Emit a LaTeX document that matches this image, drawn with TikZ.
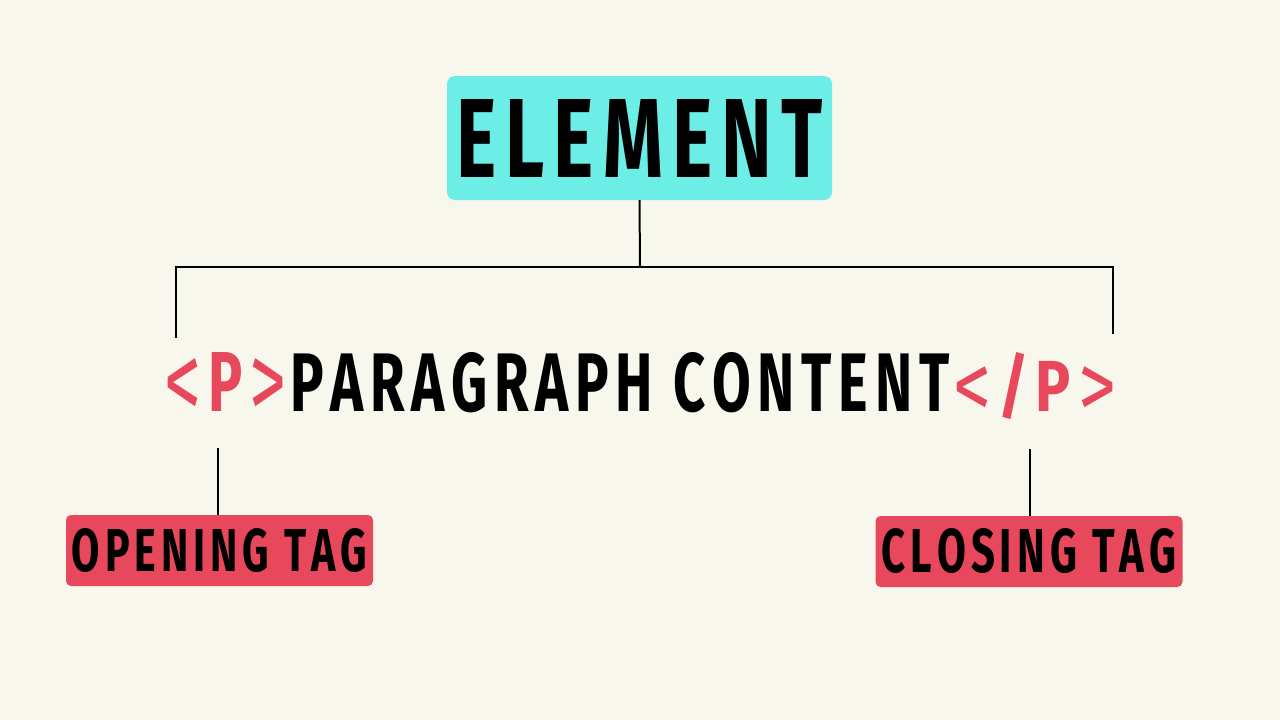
\documentclass[tikz,border=0pt]{standalone}
\usepackage{graphicx}
\usepackage{fontspec}
\setmainfont{Fira Sans}
\newcommand\trk{\kern0.12em}
\newcommand\wsp{\kern0.36em}
\newcommand\thin[1]{{\mdseries\raisebox{-0.1em}{\scalebox{1.3}{#1}}}}
\definecolor{bg}{HTML}{F8F7EE}
\definecolor{cyanbox}{HTML}{6CEEE6}
\definecolor{tagred}{HTML}{E8485B}
\tikzset{
  elbox/.style={rectangle, rounded corners=8pt, fill=cyanbox, inner sep=0pt},
  tagbox/.style={rectangle, rounded corners=5pt, fill=tagred, inner sep=0pt, minimum width=307pt, minimum height=71pt},
  wire/.style={draw=black, line width=2pt},
  txt/.style={inner sep=0pt, anchor=base west}
}
\begin{document}
\begin{tikzpicture}[x=1pt,y=-1pt]
\fill[bg] (0,0) rectangle (1280,720);
\useasboundingbox (0,0) rectangle (1280,720);
% top box
\node[elbox, minimum width=385pt, minimum height=124pt] (el) at (639.5,138)
  {\resizebox{366pt}{78pt}{\bfseries E\trk L\trk E\trk M\trk E\trk N\trk T}};
% main line
\node[txt] (popen) at (164,411)
  {\resizebox{122pt}{59pt}{\bfseries\color{tagred}\thin{<}\trk P\trk\thin{>}}};
\node[txt] (pcontent) at (290,411)
  {\resizebox{659pt}{59pt}{\bfseries P\trk A\trk R\trk A\trk G\trk R\trk A\trk P\trk H\wsp C\trk O\trk N\trk T\trk E\trk N\trk T}};
\node[txt] (pclose) at (953,411)
  {\resizebox{163pt}{59pt}{\bfseries\color{tagred}\thin{<}\trk /\trk P\trk\thin{>}}};
% tag boxes
\node[tagbox] (ot) at (219.5,550.5)
  {\resizebox{295pt}{43pt}{\bfseries O\trk P\trk E\trk N\trk I\trk N\trk G\wsp T\trk A\trk G}};
\node[tagbox] (ct) at (1029,551.5)
  {\resizebox{295pt}{44pt}{\bfseries C\trk L\trk O\trk S\trk I\trk N\trk G\wsp T\trk A\trk G}};
% connectors
\coordinate (J) at (640,267);
\coordinate (L) at (176,267);
\coordinate (Ld) at (176,338);
\coordinate (R) at (1113,267);
\coordinate (Rd) at (1113,334);
\coordinate (otop) at (218,448);
\coordinate (ctop) at (1030,449);
\draw[wire] (el.south) -- (J);
\draw[wire] (Ld) -- (L) -- (R) -- (Rd);
\draw[wire] (otop) -- (otop |- ot.north);
\draw[wire] (ctop) -- (ctop |- ct.north);
\end{tikzpicture}
\end{document}
